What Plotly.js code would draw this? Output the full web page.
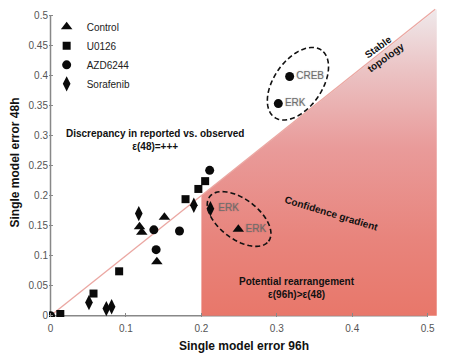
<!DOCTYPE html>
<html>
<head>
<meta charset="utf-8">
<script src="https://cdn.plot.ly/plotly-3.0.1.min.js"></script>
<style>html,body{margin:0;padding:0;background:#fff;}#chart{width:474px;height:356px;}</style>
</head>
<body>
<div id="chart"></div>
<script>
// ---- data ----
const controlX = [0.118, 0.121, 0.141, 0.151, 0.249];
const controlY = [0.148, 0.139, 0.090, 0.164, 0.144];
const controlLabels = ['', '', '', '', 'ERK'];

const u0126X = [0.013, 0.057, 0.091, 0.179, 0.196, 0.205];
const u0126Y = [0.003, 0.037, 0.074, 0.194, 0.211, 0.224];

const azdX = [0.000, 0.137, 0.140, 0.171, 0.211, 0.302, 0.317];
const azdY = [0.000, 0.143, 0.110, 0.141, 0.242, 0.353, 0.398];
const azdLabels = ['', '', '', '', '', 'ERK', 'CREB'];

const sorafX = [0.051, 0.074, 0.081, 0.117, 0.190, 0.212];
const sorafY = [0.022, 0.012, 0.015, 0.170, 0.184, 0.178];
const sorafLabels = ['', '', '', '', '', 'ERK'];

const seriesNames = ['Control', 'U0126', 'AZD6244', 'Sorafenib'];

// reference line and "potential rearrangement" region
const diagX = [0, 0.51];
const diagY = [0, 0.51];
const regionX = [0.2, 0.2, 0.512, 0.512, 0.2];
const regionY = [0, 0.2, 0.51, 0, 0];

const xTicks = [0, 0.1, 0.2, 0.3, 0.4, 0.5];
const yTicks = [0, 0.05, 0.1, 0.15, 0.2, 0.25, 0.3, 0.35, 0.4, 0.45, 0.5];

// ---- layout geometry ----
const W = 474, H = 356;
const M = {l: 48.5, r: 35, t: 8, b: 39};
const xRange = [-0.002, 0.515];
const yRange = [-0.002, 0.512];
const pxPerX = (W - M.l - M.r) / (xRange[1] - xRange[0]);
const pxPerY = (H - M.t - M.b) / (yRange[1] - yRange[0]);

function ellipsePath(cx, cy, aPx, bPx, angDeg) {
  const th = angDeg * Math.PI / 180;
  const pts = [];
  for (let i = 0; i <= 72; i++) {
    const t = i / 72 * 2 * Math.PI;
    const px = aPx * Math.cos(t) * Math.cos(th) - bPx * Math.sin(t) * Math.sin(th);
    const py = aPx * Math.cos(t) * Math.sin(th) + bPx * Math.sin(t) * Math.cos(th);
    pts.push((i ? 'L' : 'M') + (cx + px / pxPerX).toFixed(5) + ',' + (cy + py / pxPerY).toFixed(5));
  }
  return pts.join(' ') + ' Z';
}

const font = 'Arial, "Liberation Sans", sans-serif';
const mk = {color: '#0a0a0a', line: {width: 0}};
const labelFont = {family: font, size: 10, color: '#6e6e6e', shadow: '0px 0px 1.5px rgba(0,0,0,0.3)'};

const traces = [
  {x: regionX, y: regionY, type: 'scatter', mode: 'lines', fill: 'toself',
   line: {width: 0}, hoverinfo: 'skip', showlegend: false,
   fillgradient: {type: 'vertical', colorscale: [
     [0, '#e8776a'], [0.25, '#e8847c'], [0.55, '#e99b9a'], [0.8, '#ebc3c4'], [1, '#efe9eb']]}},
  {x: diagX, y: diagY, type: 'scatter', mode: 'lines',
   line: {color: '#eba7a2', width: 1.3}, hoverinfo: 'skip', showlegend: false},
  {x: controlX, y: controlY, name: seriesNames[0], type: 'scatter', mode: 'markers+text',
   text: controlLabels, textposition: 'middle right', textfont: labelFont,
   marker: Object.assign({symbol: 'triangle-up', size: 10}, mk)},
  {x: u0126X, y: u0126Y, name: seriesNames[1], type: 'scatter', mode: 'markers',
   marker: Object.assign({symbol: 'square', size: 8}, mk)},
  {x: azdX, y: azdY, name: seriesNames[2], type: 'scatter', mode: 'markers+text',
   text: azdLabels, textposition: 'middle right', textfont: labelFont,
   marker: Object.assign({symbol: 'circle', size: 9}, mk)},
  {x: sorafX, y: sorafY, name: seriesNames[3], type: 'scatter', mode: 'markers+text',
   text: sorafLabels, textposition: 'middle right', textfont: labelFont,
   marker: Object.assign({symbol: 'diamond-tall', size: 11}, mk)}
];

const boldFont = (s) => ({family: font, size: s, color: '#111', weight: 'bold'});

const layout = {
  width: W, height: H,
  margin: M,
  paper_bgcolor: '#fff', plot_bgcolor: 'rgba(0,0,0,0)',
  font: {family: font, size: 10, color: '#444'},
  xaxis: {range: xRange, tickvals: xTicks, ticktext: xTicks.map(String),
    showgrid: false, zeroline: false, showline: false,
    ticks: 'inside', ticklen: 4, tickcolor: '#888', tickwidth: 1,
    ticklabelstandoff: 4,
    tickfont: {family: font, size: 10, color: '#555'},
    title: {text: 'Single model error 96h', font: boldFont(12), standoff: 8}},
  yaxis: {range: yRange, tickvals: yTicks, ticktext: yTicks.map(String),
    showgrid: false, zeroline: false, showline: false,
    ticks: 'inside', ticklen: 4, tickcolor: '#888', tickwidth: 1,
    tickfont: {family: font, size: 10, color: '#555'},
    title: {text: 'Single model error 48h', font: boldFont(12), standoff: 6}},
  showlegend: true,
  legend: {x: -0.006, y: 0.986, xanchor: 'left', yanchor: 'top',
    bgcolor: 'rgba(0,0,0,0)', itemwidth: 30,
    font: {family: font, size: 10, color: '#222'}},
  shapes: [
    {type: 'line', xref: 'x', yref: 'y', x0: 0, y0: 0, x1: 0.5, y1: 0, line: {color: '#888', width: 1.5}, layer: 'below'},
    {type: 'line', xref: 'x', yref: 'y', x0: 0, y0: 0, x1: 0, y1: 0.5, line: {color: '#888', width: 1.5}, layer: 'below'},
    {type: 'path', xref: 'x', yref: 'y', path: ellipsePath(0.328, 0.386, 41, 24, 55),
     line: {color: '#111', width: 1.6, dash: '5px,3px'}},
    {type: 'path', xref: 'x', yref: 'y', path: ellipsePath(0.250, 0.161, 37, 20, -37),
     line: {color: '#111', width: 1.6, dash: '5px,3px'}}
  ],
  annotations: [
    {x: 0.139, y: 0.293, xref: 'x', yref: 'y', showarrow: false,
     text: 'Discrepancy in reported vs. observed<br>ε(48)=+++', font: boldFont(10), align: 'center'},
    {x: 0.440, y: 0.438, xref: 'x', yref: 'y', showarrow: false, textangle: -36,
     text: 'Stable<br>topology', font: boldFont(10), align: 'center'},
    {x: 0.373, y: 0.171, xref: 'x', yref: 'y', showarrow: false, textangle: 17,
     text: 'Confidence gradient', font: boldFont(10)},
    {x: 0.327, y: 0.047, xref: 'x', yref: 'y', showarrow: false,
     text: 'Potential rearrangement<br>ε(96h)>ε(48)', font: boldFont(10), align: 'center'}
  ]
};

Plotly.newPlot('chart', traces, layout, {displayModeBar: false, staticPlot: true});
</script>
</body>
</html>
